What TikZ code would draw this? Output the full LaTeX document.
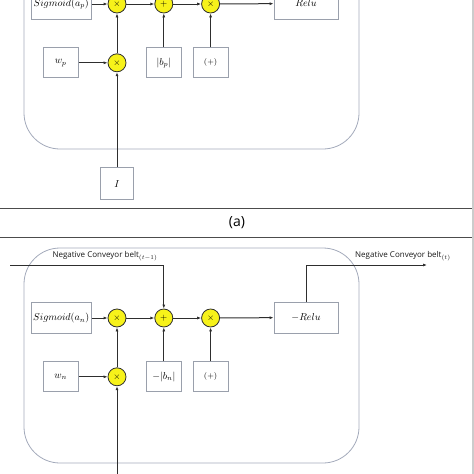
\documentclass[tikz,border=0pt]{standalone}
\usepackage{fontspec}
\usepackage{tikz}
\usetikzlibrary{positioning, arrows.meta}
\newfontfamily\beltfont{Open Sans}
\definecolor{boxgray}{HTML}{9AA0AC}
\definecolor{rimgray}{HTML}{A3AABB}
\definecolor{opyellow}{HTML}{F7F21A}
\definecolor{linegray}{HTML}{2E2E2E}

\begin{document}
\begin{tikzpicture}[x=1pt, y=-1pt,
  every node/.style={inner sep=0pt},
  box/.style={draw=boxgray, line width=0.8pt, minimum width=35pt,
              minimum height=30pt, font=\normalsize},
  widebox/.style={box, minimum width=60pt, minimum height=31pt},
  relubox/.style={box, minimum width=64pt, minimum height=31pt},
  op/.style={circle, draw=linegray, fill=opyellow, line width=0.8pt,
             minimum size=18pt, font=\small},
  arrow/.style={-{Latex[length=4pt, width=3pt]}, linegray, line width=1pt},
  rim/.style={draw=rimgray, line width=0.8pt, rounded corners=36pt},
  beltlabel/.style={font=\beltfont\fontsize{8}{9}\selectfont, color=black!90}]
\useasboundingbox (0,0) rectangle (474,474);
\clip (0,0) rectangle (474,474);

% panel (a)
\draw[rim] (24,-70) rectangle (359,149);
\node[op] (mulp1) at (117,4) {$\times$};
\node[op, right=28pt of mulp1] (addp) {$+$};
\node[op, right=28pt of addp] (mulp2) {$\times$};
\node[widebox, left=16pt of mulp1] (sigp) {$Sigmoid(a_p)$};
\node[relubox] (relup) at (306,3.5) {$Relu$};
\node[op, below=40pt of mulp1] (mulp3) {$\times$};
\node[box, left=29pt of mulp3] (wp) {$w_p$};
\node[box, below=34pt of addp] (bp) {$|b_p|$};
\node[box, below=34pt of mulp2] (signp) {\footnotesize(+)};
\node[box, minimum width=33pt, minimum height=32pt, below=95pt of mulp3] (inp) {$I$};
\draw[arrow] (sigp) -- (mulp1);
\draw[arrow] (mulp1) -- (addp);
\draw[arrow] (addp) -- (mulp2);
\draw[arrow] (mulp2) -- (relup);
\draw[arrow] (wp) -- (mulp3);
\draw[arrow] (mulp3) -- (mulp1);
\draw[arrow] (bp) -- (addp);
\draw[arrow] (signp) -- (mulp2);
\draw[arrow] (inp) -- (mulp3);

% caption
\draw[black!70, line width=1pt] (0,208) -- (474,208);
\draw[black!70, line width=1pt] (0,237) -- (474,237);
\node[font=\beltfont\fontsize{14}{16}\selectfont] (capa) at (237,222.5) {(a)};

% panel (b)
\draw[rim] (24,248) rectangle (359,463);
\node[op] (muln1) at (117,318) {$\times$};
\node[op, right=28pt of muln1] (addn) {$+$};
\node[op, right=28pt of addn] (muln2) {$\times$};
\node[widebox, left=16pt of muln1] (sign) {$Sigmoid(a_n)$};
\node[relubox] (relun) at (306,317.5) {$-Relu$};
\node[op, below=40pt of muln1] (muln3) {$\times$};
\node[box, left=29pt of muln3] (wn) {$w_n$};
\node[box, below=34pt of addn] (bn) {$-|b_n|$};
\node[box, below=34pt of muln2] (signn) {\footnotesize(+)};
\coordinate (beltin) at (10,265);
\coordinate (beltout) at (427,265);
\coordinate (inn) at (117,480);
\node[beltlabel] (beltinlabel) at (105,256.5) {Negative Conveyor belt$_{(t-1)}$};
\node[beltlabel, anchor=west] (beltoutlabel) at (355,256.5) {Negative Conveyor belt$_{(t)}$};
\draw[arrow] (beltin) -| (addn);
\draw[arrow] (relun) |- (beltout);
\draw[arrow] (sign) -- (muln1);
\draw[arrow] (muln1) -- (addn);
\draw[arrow] (addn) -- (muln2);
\draw[arrow] (muln2) -- (relun);
\draw[arrow] (wn) -- (muln3);
\draw[arrow] (muln3) -- (muln1);
\draw[arrow] (bn) -- (addn);
\draw[arrow] (signn) -- (muln2);
\draw[arrow] (inn) -- (muln3);

\draw[black!20, line width=2pt] (473,0) -- (473,474);
\end{tikzpicture}
\end{document}
